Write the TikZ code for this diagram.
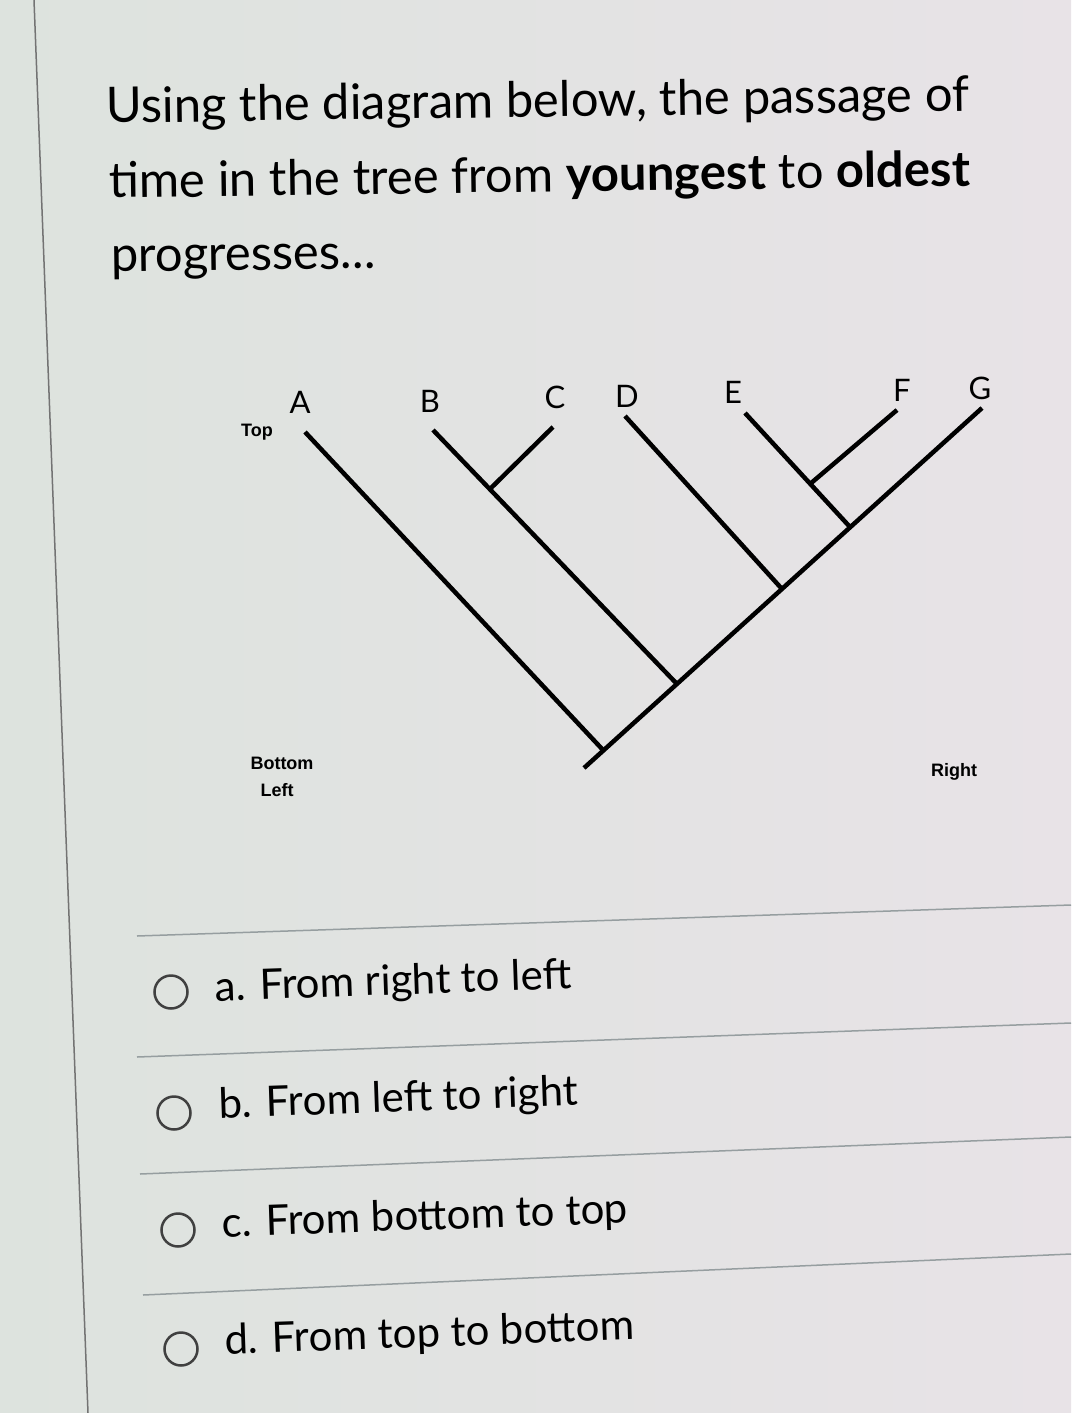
\documentclass[tikz,border=0pt]{standalone}
\usepackage{fontspec}
\setmainfont{Lato}
\newfontfamily\sidefont{Liberation Sans}
\definecolor{paperleft}{RGB}{221,227,222}
\definecolor{paperright}{RGB}{232,227,231}
\definecolor{rulegray}{RGB}{150,158,160}
\begin{document}
\begin{tikzpicture}[x=1pt,y=-1pt,
    branch/.style={line width=4.5pt},
    tiplabel/.style={inner sep=0pt, font=\fontsize{31}{31}\selectfont},
    sidelabel/.style={inner sep=0pt, font=\sidefont\bfseries\fontsize{18}{18}\selectfont},
    question/.style={anchor=base west, inner sep=0pt, rotate=0.8, font=\fontsize{49}{49}\selectfont},
    radio/.style={circle, draw=black!75, line width=2.5pt, minimum size=33pt, inner sep=0pt},
    answer/.style={anchor=base west, inner sep=0pt, rotate=2, font=\fontsize{42}{42}\selectfont},
    rule/.style={draw=rulegray, line width=1.5pt}]
    \useasboundingbox (0,0) rectangle (1071,1413);
    \shade[left color=paperleft, right color=paperright] (0,0) rectangle (1071,1413);
    % page edge and separators
    \draw[draw=black!55, line width=1.5pt] (34,0) -- (88,1413);
    \draw[rule] (137,936) -- (1071,905);
    \draw[rule] (137,1057) -- (1071,1023);
    \draw[rule] (140,1174) -- (1071,1137);
    \draw[rule] (143,1295) -- (1071,1254);

    % question
    \node[question] (q1) at (106,123) {Using the diagram below, the passage of};
    \node[question] (q2) at (109,198) {time in the tree from \textbf{youngest} to \textbf{oldest}};
    \node[question] (q3) at (111,272) {progresses...};

    % tree
    \coordinate (tA) at (305,432);
    \coordinate (tB) at (433,430);
    \coordinate (tC) at (553,427);
    \coordinate (tD) at (625,416);
    \coordinate (tE) at (745,413);
    \coordinate (tF) at (897,410);
    \coordinate (tG) at (982,408);
    \coordinate (root) at (584,768);
    \coordinate (nA) at (603,750);
    \coordinate (nB) at (677,684);
    \coordinate (nC) at (490,489);
    \coordinate (nD) at (782,589);
    \coordinate (nE) at (850,527);
    \coordinate (nF) at (810,484);
    \draw[branch] (root) -- (tG);
    \draw[branch] (tA) -- (nA);
    \draw[branch] (tB) -- (nB);
    \draw[branch] (tC) -- (nC);
    \draw[branch] (tD) -- (nD);
    \draw[branch] (tE) -- (nE);
    \draw[branch] (tF) -- (nF);
    \node[tiplabel] (labA) at (300,402) {A};
    \node[tiplabel] (labB) at (430,401) {B};
    \node[tiplabel] (labC) at (555,397) {C};
    \node[tiplabel] (labD) at (627,396) {D};
    \node[tiplabel] (labE) at (733,392) {E};
    \node[tiplabel] (labF) at (902,390) {F};
    \node[tiplabel] (labG) at (980,388) {G};
    \node[sidelabel] (top) at (257,432) {Top};
    \node[sidelabel] (bottom) at (282,763) {Bottom};
    \node[sidelabel] (left) at (277,790) {Left};
    \node[sidelabel] (right) at (954,772) {Right};

    % answers
    \node[radio] (ra) at (171,992) {};
    \node[answer] (oa) at (215,1001) {a. From right to left};
    \node[radio] (rb) at (174,1113) {};
    \node[answer] (ob) at (219,1118) {b. From left to right};
    \node[radio] (rc) at (178,1230) {};
    \node[answer] (oc) at (222,1237) {c. From bottom to top};
    \node[radio] (rd) at (181,1349) {};
    \node[answer] (od) at (225,1354) {d. From top to bottom};
\end{tikzpicture}
\end{document}
